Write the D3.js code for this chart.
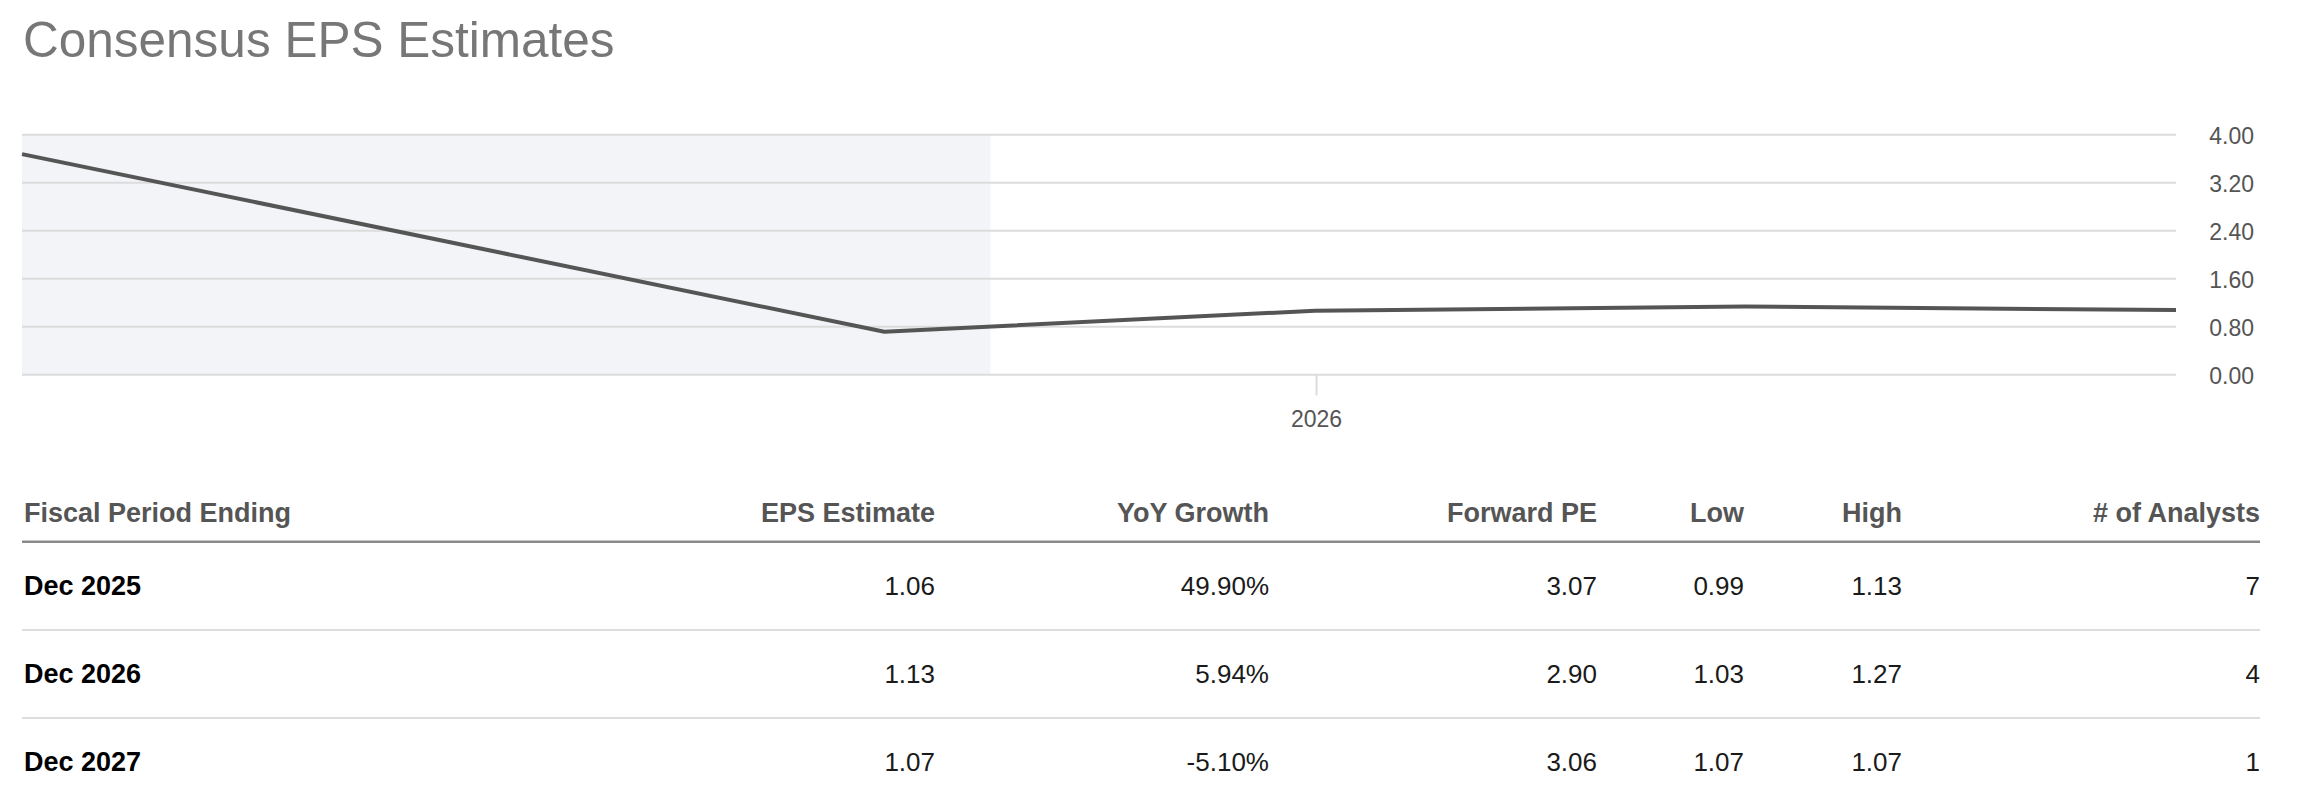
<!DOCTYPE html>
<html lang="en">
<head>
<meta charset="utf-8">
<script src="https://d3js.org/d3.v7.min.js"></script>
<style type="text/css">
body {
	margin: 0;
	background: #fff;
	font-family: "Liberation Sans", Arial, Helvetica, sans-serif;
}
.grid line {
	stroke: #dcdcdc;
	stroke-width: 2;
}
</style>
</head>
<body>
<script type="text/javascript">

// chart data
var dates = ["2022-12-31", "2024-12-31", "2025-12-31", "2026-12-31", "2027-12-31"];
var eps = [3.67, 0.71, 1.06, 1.13, 1.07];
var yTicks = [0, 0.8, 1.6, 2.4, 3.2, 4.0];
var xTickDates = ["2026-01-01"];
var xTickLabels = ["2026"];
var shadeEnd = "2025-03-31";

// table data
var headers = ["Fiscal Period Ending", "EPS Estimate", "YoY Growth", "Forward PE", "Low", "High", "# of Analysts"];
var periods = ["Dec 2025", "Dec 2026", "Dec 2027"];
var epsEstimate = ["1.06", "1.13", "1.07"];
var yoyGrowth = ["49.90%", "5.94%", "-5.10%"];
var forwardPE = ["3.07", "2.90", "3.06"];
var lowEst = ["0.99", "1.03", "1.07"];
var highEst = ["1.13", "1.27", "1.07"];
var analysts = ["7", "4", "1"];

var width = 2308;
var height = 810;
var parse = d3.timeParse("%Y-%m-%d");

var svg = d3.select("body")
	.append("svg")
	.attr("width", width)
	.attr("height", height);

// title
svg.append("text")
	.attr("x", 23)
	.attr("y", 57)
	.style("font-size", "49.5px")
	.style("fill", "#777")
	.text("Consensus EPS Estimates");

// scales
var plot = {left: 22, right: 2176, top: 134.3, bottom: 374.3};

var x = d3.scaleTime()
	.domain([parse(dates[0]), parse(dates[dates.length - 1])])
	.range([plot.left, plot.right]);

var y = d3.scaleLinear()
	.domain([0, 4])
	.range([plot.bottom, plot.top]);

// shaded past area
svg.append("rect")
	.attr("x", plot.left)
	.attr("y", plot.top)
	.attr("width", x(parse(shadeEnd)) - plot.left)
	.attr("height", plot.bottom - plot.top)
	.style("fill", "#f3f4f8");

// gridlines + right labels
var yAxis = d3.axisRight(y)
	.tickValues(yTicks)
	.tickSize(plot.right - plot.left)
	.tickFormat(d3.format(".2f"));

var gy = svg.append("g")
	.attr("class", "grid")
	.attr("transform", "translate(" + plot.left + ",0)")
	.call(yAxis);
gy.select(".domain").remove();
gy.selectAll("text")
	.attr("x", 2254 - plot.left)
	.attr("dy", "9px")
	.attr("text-anchor", "end")
	.style("font-family", "'Liberation Sans', Arial, sans-serif")
	.style("font-size", "23px")
	.style("fill", "#555");

// x axis tick
var xAxis = d3.axisBottom(x)
	.tickValues(xTickDates.map(parse))
	.tickSize(21)
	.tickPadding(0)
	.tickFormat(function(d, i) { return xTickLabels[i]; });

var gx = svg.append("g")
	.attr("class", "grid")
	.attr("transform", "translate(0," + plot.bottom + ")")
	.call(xAxis);
gx.select(".domain").remove();
gx.selectAll("text")
	.attr("y", 53)
	.attr("dy", 0)
	.style("font-family", "'Liberation Sans', Arial, sans-serif")
	.style("font-size", "23px")
	.style("fill", "#555");

// eps line
var line = d3.line()
	.x(function(d) { return x(parse(d.date)); })
	.y(function(d) { return y(d.value); });

var points = dates.map(function(d, i) { return {date: d, value: eps[i]}; });

svg.append("path")
	.datum(points)
	.attr("d", line)
	.style("fill", "none")
	.style("stroke", "#555")
	.style("stroke-width", 4)
	.style("stroke-linejoin", "round");

// table
var tableLeft = 22;
var tableRight = 2260;
var colRight = [null, 935, 1269, 1597, 1744, 1902, 2260];
var headerY = 521.7;
var ruleY = 541.7;
var rowY = d3.scaleLinear().domain([0, 1]).range([595, 683]);

var columns = [periods, epsEstimate, yoyGrowth, forwardPE, lowEst, highEst, analysts];

svg.selectAll("text.head")
	.data(headers)
	.enter()
	.append("text")
	.attr("class", "head")
	.attr("x", function(d, i) { return i == 0 ? tableLeft + 2 : colRight[i]; })
	.attr("y", headerY)
	.attr("text-anchor", function(d, i) { return i == 0 ? "start" : "end"; })
	.style("font-size", "27px")
	.style("font-weight", "bold")
	.style("fill", "#555")
	.text(function(d) { return d; });

svg.append("line")
	.attr("x1", tableLeft)
	.attr("x2", tableRight)
	.attr("y1", ruleY)
	.attr("y2", ruleY)
	.style("stroke", "#8a8a8a")
	.style("stroke-width", 2.5);

// row separators
svg.selectAll("line.sep")
	.data(periods.slice(0, periods.length - 1))
	.enter()
	.append("line")
	.attr("class", "sep")
	.attr("x1", tableLeft)
	.attr("x2", tableRight)
	.attr("y1", function(d, i) { return rowY(i) + 35; })
	.attr("y2", function(d, i) { return rowY(i) + 35; })
	.style("stroke", "#dddddd")
	.style("stroke-width", 2);

columns.forEach(function(col, c) {
	svg.selectAll("text.col" + c)
		.data(col)
		.enter()
		.append("text")
		.attr("class", "col" + c)
		.attr("x", c == 0 ? tableLeft + 2 : colRight[c])
		.attr("y", function(d, i) { return rowY(i); })
		.attr("text-anchor", c == 0 ? "start" : "end")
		.style("font-size", c == 0 ? "27px" : "26px")
		.style("font-weight", c == 0 ? "bold" : "normal")
		.style("fill", c == 0 ? "#000" : "#1a1a1a")
		.text(function(d) { return d; });
});

</script>
</body>
</html>
